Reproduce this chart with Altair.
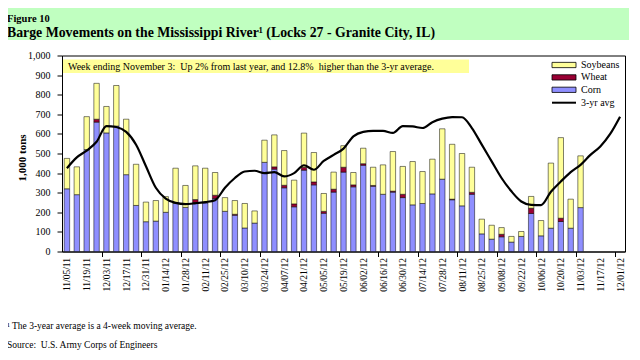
import json
import altair as alt
import pandas as pd

weeks = ["11/05/11", "11/12/11", "11/19/11", "11/26/11", "12/03/11", "12/10/11", "12/17/11",
         "12/24/11", "12/31/11", "01/07/12", "01/14/12", "01/21/12", "01/28/12", "02/04/12",
         "02/11/12", "02/18/12", "02/25/12", "03/03/12", "03/10/12", "03/17/12", "03/24/12",
         "03/31/12", "04/07/12", "04/14/12", "04/21/12", "04/28/12", "05/05/12", "05/12/12",
         "05/19/12", "05/26/12", "06/02/12", "06/09/12", "06/16/12", "06/23/12", "06/30/12",
         "07/07/12", "07/14/12", "07/21/12", "07/28/12", "08/04/12", "08/11/12", "08/18/12",
         "08/25/12", "09/01/12", "09/08/12", "09/15/12", "09/22/12", "09/29/12", "10/06/12",
         "10/13/12", "10/20/12", "10/27/12", "11/03/12", "11/10/12", "11/17/12", "11/24/12",
         "12/01/12"]

corn = [320, 290, 520, 660, 605, 640, 392, 235, 152, 155, 200, 245, 225, 250, 248, 270, 205,
        185, 120, 145, 455, 420, 325, 228, 415, 340, 195, 303, 405, 330, 440, 333, 292, 303,
        275, 238, 245, 294, 369, 264, 233, 292, 90, 63, 75, 48, 77, 194, 80, 119, 153, 119, 224]

wheat = [0, 0, 0, 15, 0, 0, 0, 0, 0, 0, 0, 0, 0, 15, 0, 17, 0, 5, 0, 0, 0, 12, 13, 15, 15, 15,
         10, 15, 25, 10, 8, 4, 0, 5, 17, 0, 0, 0, 0, 3, 0, 10, 0, 0, 13, 0, 0, 27, 0, 0, 17, 0, 0]

soybeans = [155, 142, 168, 183, 135, 207, 283, 210, 100, 105, 80, 180, 112, 172, 177, 116, 70,
            70, 125, 62, 113, 163, 177, 121, 174, 150, 91, 87, 110, 63, 79, 93, 150, 202, 142,
            221, 163, 177, 257, 280, 267, 128, 75, 71, 34, 29, 25, 60, 78, 332, 411, 148, 264]

avg3 = [425, 480, 515, 560, 640, 635, 610, 545, 435, 325, 270, 248, 242, 246, 252, 262, 325,
        375, 408, 412, 400, 405, 383, 400, 440, 417, 462, 493, 525, 587, 610, 615, 615, 605,
        640, 638, 630, 660, 678, 686, 685, 630, 545, 460, 375, 307, 255, 238, 237, 305, 357,
        405, 442, 493, 536, 600, 688]

commodities = ["Soybeans", "Wheat", "Corn"]
colors = ["#ffff99", "#990033", "#8f8fff"]

title_text = "Barge Movements on the Mississippi River\u00b9 (Locks 27 - Granite City, IL)"
figure_text = "Figure 10"
note_text = "Week ending November 3:\u00a0 Up 2% from last year, and 12.8%\u00a0 higher than the 3-yr average."
foot_text = "\u00b9 The 3-year average is a 4-week moving average."
source_text = "Source:\u00a0 U.S. Army Corps of Engineers"

rows = []
for i in range(len(corn)):
    for name, vals, k in (("Corn", corn, 0), ("Wheat", wheat, 1), ("Soybeans", soybeans, 2)):
        if vals[i] > 0:
            rows.append({"week": weeks[i], "commodity": name, "tons": vals[i], "order": k})
bars_df = pd.DataFrame(rows)
line_df = pd.DataFrame({"week": weeks, "avg": avg3, "series": "3-yr avg"})

serif = "Liberation Serif"
wk = json.dumps(weeks).replace('"', "'")
label_expr = f"indexof({wk}, datum.value) % 2 == 0 ? datum.value : ''"
tick_test = f"indexof({wk}, datum.value) % 4 == 3"

x_enc = alt.X(
    "week:O", sort=weeks,
    scale=alt.Scale(domain=weeks, paddingInner=0, paddingOuter=0),
    axis=alt.Axis(title=None, labelExpr=label_expr, labelAngle=270, labelFont=serif,
                  labelFontSize=9.5, labelColor="black", labelOverlap=False,
                  tickBand="extent",
                  tickOpacity={"condition": {"test": tick_test, "value": 1}, "value": 0},
                  tickColor="black", tickSize=5, tickWidth=1, labelPadding=1,
                  domainColor="black"),
)

y_axis = alt.Axis(title="1,000 tons", titleFont=serif, titleFontSize=11, titleFontWeight="bold",
                  titleColor="black", titleX=-35, titleY=102, titleAngle=270,
                  values=list(range(0, 1001, 100)), format=",.0f", labelFont=serif,
                  labelFontSize=10, labelColor="black", tickSize=5, tickColor="black",
                  domainColor="black", grid=False, labelPadding=7)

y_scale = alt.Scale(domain=[0, 1000])

bars = alt.Chart(bars_df).mark_bar(width=alt.RelativeBandSize(0.55), stroke="black",
                                   strokeWidth=0.5).encode(
    x=x_enc,
    y=alt.Y("tons:Q", stack="zero", scale=y_scale, axis=y_axis),
    fill=alt.Fill("commodity:N", scale=alt.Scale(domain=commodities, range=colors),
                  legend=alt.Legend(title=None, orient="none", legendX=497, legendY=4.5,
                                    padding=0, symbolType="M-3,-0.66H3V0.66H-3Z",
                                    symbolSize=64, symbolStrokeColor="black",
                                    symbolStrokeWidth=0.8, symbolOpacity=1,
                                    labelOffset=12, labelFont=serif, labelFontSize=10,
                                    labelColor="black", rowPadding=2.4)),
    order=alt.Order("order:Q"),
)

line = alt.Chart(line_df).mark_line(strokeWidth=2.2, interpolate="monotone").encode(
    x=x_enc,
    y=alt.Y("avg:Q", scale=y_scale, axis=y_axis),
    stroke=alt.Stroke("series:N", scale=alt.Scale(domain=["3-yr avg"], range=["black"]),
                      legend=alt.Legend(title=None, orient="none", legendX=497, legendY=42.2,
                                        padding=0, symbolType="M-3,0H3", symbolSize=64,
                                        symbolStrokeWidth=2, labelOffset=12, labelFont=serif,
                                        labelFontSize=10, labelColor="black")),
)

one = pd.DataFrame({"k": [0]})
banner = alt.Chart(one).mark_rect(color="#c0ffc0").encode(
    x=alt.value(-54), x2=alt.value(567), y=alt.value(-47.5), y2=alt.value(-15.5))
note_box = alt.Chart(one).mark_rect(color="#ffff99").encode(
    x=alt.value(1), x2=alt.value(407), y=alt.value(4), y2=alt.value(17.5))


def text_layer(txt, x, y, size, weight="normal"):
    return alt.Chart(pd.DataFrame({"t": [txt]})).mark_text(
        align="left", baseline="alphabetic", font=serif, fontSize=size,
        fontWeight=weight, color="black").encode(text="t:N", x=alt.value(x), y=alt.value(y))


chart = alt.layer(
    banner, note_box, bars, line,
    text_layer(figure_text, -55, -33.5, 10.5, "bold"),
    text_layer(title_text, -55, -19, 13.8, "bold"),
    text_layer(note_text, 6, 14.5, 10),
    text_layer(foot_text, -55, 273.5, 9.5),
    text_layer(source_text, -55, 292.5, 9.5),
).properties(
    width=563, height=196, autosize="none",
    padding={"left": 54, "top": 47.5, "right": 7, "bottom": 98.5},
    background="white",
).configure_view(stroke="black", strokeWidth=1)

chart.save("out.html", embed_options={"renderer": "svg", "actions": False})
